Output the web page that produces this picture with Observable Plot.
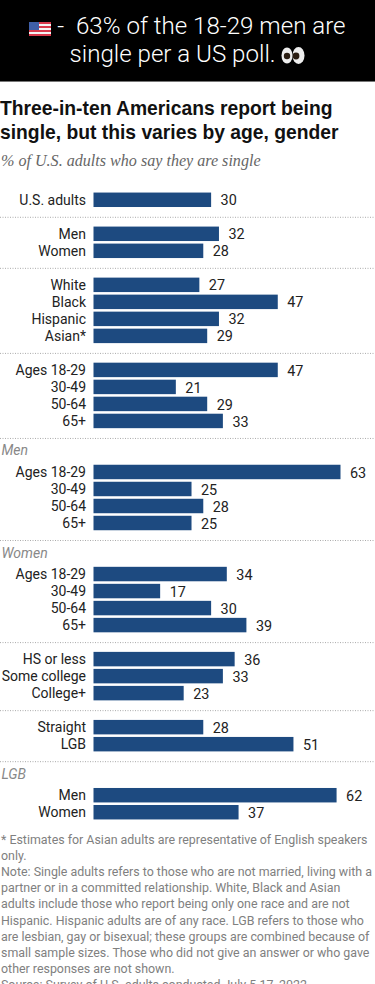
<!DOCTYPE html>
<html><head><meta charset="utf-8">
<script src="https://cdn.jsdelivr.net/npm/d3@7"></script>
<script src="https://cdn.jsdelivr.net/npm/@observablehq/plot@0.6"></script>
<style>
html,body{margin:0;padding:0;background:#fff;width:375px;height:984px;overflow:hidden}
#head{background:#000;color:#fff;height:81px;border-bottom:1.5px solid #777;box-sizing:content-box;text-align:center;font:300 24.1px/28px Roboto,sans-serif;padding:0;position:relative}
#head .l1{position:absolute;left:0;right:0;top:12px}
#head .l2{position:absolute;left:0;right:0;top:40px}
#head svg{vertical-align:-2px}
#title{position:absolute;top:96.5px;left:0;font:700 19.3px/24.5px "Liberation Sans",sans-serif;color:#111;white-space:nowrap}
#sub{position:absolute;top:152px;left:1px;font:italic 16.1px/18px "Liberation Serif",serif;color:#666;white-space:nowrap}
#chart{position:absolute;left:0;top:190px}
#chart svg{display:block;overflow:visible}
#notes{position:absolute;top:831.5px;left:1px;font:12.42px/16.2px Roboto,sans-serif;color:#808080;white-space:nowrap}
</style></head>
<body>
<div id="head">
<div class="l1"><svg width="22" height="14" viewBox="0 0 22 14"><rect width="22" height="14" fill="#f4f4f4"/><g fill="#d8394c"><rect width="22" height="2"/><rect y="4" width="22" height="2"/><rect y="8" width="22" height="2"/><rect y="12" width="22" height="2"/></g><rect width="10" height="8" fill="#3f5fa8"/></svg>&nbsp;-&nbsp; 63% of the 18-29 men are</div>
<div class="l2">single per a US poll. <svg width="24" height="17" viewBox="0 0 24 17"><ellipse cx="6" cy="8.5" rx="5.5" ry="8" fill="#eee"/><ellipse cx="17.5" cy="8.5" rx="6" ry="8.5" fill="#eee"/><circle cx="6" cy="9" r="3.2" fill="#2a1d12"/><circle cx="15" cy="9" r="3.4" fill="#2a1d12"/></svg></div>
</div>
<div id="title">Three-in-ten Americans report being<br>single, but this varies by age, gender</div>
<div id="sub">% of U.S. adults who say they are single</div>
<div id="chart"></div>
<div id="notes">* Estimates for Asian adults are representative of English speakers<br>only.<br>Note: Single adults refers to those who are not married, living with a<br>partner or in a committed relationship. White, Black and Asian<br>adults include those who report being only one race and are not<br>Hispanic. Hispanic adults are of any race. LGB refers to those who<br>are lesbian, gay or bisexual; these groups are combined because of<br>small sample sizes. Those who did not give an answer or who gave<br>other responses are not shown.<br>Source: Survey of U.S. adults conducted July 5-17, 2022.</div>
<script>
const sectionHeads = [null, null, null, null, "Men", "Women", null, null, "LGB"];
const sectionLabels = [
  ["U.S. adults"],
  ["Men", "Women"],
  ["White", "Black", "Hispanic", "Asian*"],
  ["Ages 18-29", "30-49", "50-64", "65+"],
  ["Ages 18-29", "30-49", "50-64", "65+"],
  ["Ages 18-29", "30-49", "50-64", "65+"],
  ["HS or less", "Some college", "College+"],
  ["Straight", "LGB"],
  ["Men", "Women"]
];
const sectionValues = [
  [30],
  [32, 28],
  [27, 47, 32, 29],
  [47, 21, 29, 33],
  [63, 25, 28, 25],
  [34, 17, 30, 39],
  [36, 33, 23],
  [28, 51],
  [62, 37]
];

const domain = [], bars = [], heads = [], seps = [];
sectionLabels.forEach((labels, s) => {
  if (s > 0) { const k = "sep" + s; domain.push(k); seps.push(k); }
  if (sectionHeads[s]) {
    const k = "head" + s;
    domain.push(k);
    heads.push({key: k, text: sectionHeads[s]});
  }
  labels.forEach((label, i) => {
    const k = s + "-" + i;
    domain.push(k);
    bars.push({key: k, label, value: sectionValues[s][i]});
  });
});
const labelOf = new Map(bars.map(d => [d.key, d.label]));
const font = "Roboto, sans-serif";

const plot = Plot.plot({
  width: 375,
  height: 632,
  marginTop: 0, marginBottom: 0, marginLeft: 0, marginRight: 0,
  style: {background: "transparent", fontFamily: font},
  x: {domain: [0, 63], range: [93.5, 340.5], axis: null},
  y: {type: "band", domain, padding: 0.15, round: false, axis: null},
  marks: [
    Plot.ruleY(seps, {y: d => d, stroke: "#aaa", strokeWidth: 1, strokeDasharray: "1,1.5"}),
    Plot.barX(bars, {x: "value", y: "key", fill: "#1d4a80"}),
    Plot.axisY(bars.map(d => d.key), {
      tickSize: 0, tickPadding: 0, dx: 85.5, label: null, anchor: "left",
      tickFormat: k => labelOf.get(k), fontSize: 14, fill: "#222", fontFamily: font
    }),
    Plot.text(bars, {x: "value", y: "key", text: d => String(d.value), dx: 9, dy: 0.5,
      textAnchor: "start", fontSize: 14.4, fill: "#222", fontFamily: font}),
    Plot.text(heads, {x: 0, y: "key", text: "text", dx: -92.5, dy: -4.5, textAnchor: "start",
      fontSize: 14, fontStyle: "italic", fill: "#888", fontFamily: font})
  ]
});
document.getElementById("chart").appendChild(plot);
</script>
</body></html>
